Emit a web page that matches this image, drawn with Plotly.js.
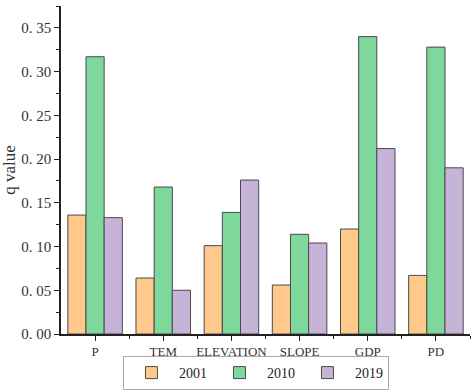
<!DOCTYPE html>
<html><head><meta charset="utf-8">
<script src="https://cdn.plot.ly/plotly-3.0.1.min.js"></script>
<style>body{margin:0;background:#fff}#c{width:474px;height:390px}</style>
</head><body><div id="c"></div>
<script>
var categories = ["P","TEM","ELEVATION","SLOPE","GDP","PD"];
var v2001 = [0.136,0.064,0.101,0.056,0.120,0.067];
var v2010 = [0.317,0.168,0.139,0.114,0.340,0.328];
var v2019 = [0.133,0.050,0.176,0.104,0.212,0.190];
var yTicks = [0,0.05,0.10,0.15,0.20,0.25,0.30,0.35];
var yTickText = ["0.\u00a000","0.\u00a005","0.\u00a010","0.\u00a015","0.\u00a020","0.\u00a025","0.\u00a030","0.\u00a035"];

var xs = categories.map(function(_,i){return i;});
var font = "Liberation Serif";
function tr(name,y,color){return {type:"bar",name:name,x:xs,y:y,marker:{color:color,line:{color:"#4a4a4a",width:1}}};}
var data=[tr("2001",v2001,"#FFC98C"),tr("2010",v2010,"#7ED79B"),tr("2019",v2019,"#C8B3D8")];
var layout={
  width:474,height:390,margin:{l:61,r:4,t:6,b:56},
  paper_bgcolor:"#fff",plot_bgcolor:"#fff",
  barmode:"group",bargap:0.2,bargroupgap:0,
  font:{family:font,color:"#333",size:13},
  xaxis:{range:[-0.5,5.5],tickvals:xs,ticktext:categories,ticks:"outside",ticklen:5,tickcolor:"#222",
    showline:true,linecolor:"#222",linewidth:1.5,showgrid:false,zeroline:false,tickfont:{size:13,family:font,color:"#333"},
    minor:{tickvals:[0.5,1.5,2.5,3.5,4.5,5.5],ticks:"outside",ticklen:3,tickcolor:"#222"}},
  yaxis:{range:[0,0.375],tickvals:yTicks,ticktext:yTickText,ticks:"outside",ticklen:5,tickcolor:"#222",
    showline:true,linecolor:"#222",linewidth:1.5,showgrid:false,zeroline:false,tickfont:{size:15,family:font,color:"#333"},
    minor:{dtick:0.025,ticks:"outside",ticklen:3,tickcolor:"#222",showgrid:false},
    title:{text:"q value",font:{size:17,family:font,color:"#333"},standoff:6}},
  showlegend:true,
  legend:{orientation:"h",xref:"container",yref:"container",x:0.54,xanchor:"center",y:0.0,yanchor:"bottom",bordercolor:"#aaa",borderwidth:1,
    font:{size:14,family:font,color:"#222"},itemwidth:45,tracegroupgap:0}
};
Plotly.newPlot("c",data,layout,{displayModeBar:false});
</script></body></html>
